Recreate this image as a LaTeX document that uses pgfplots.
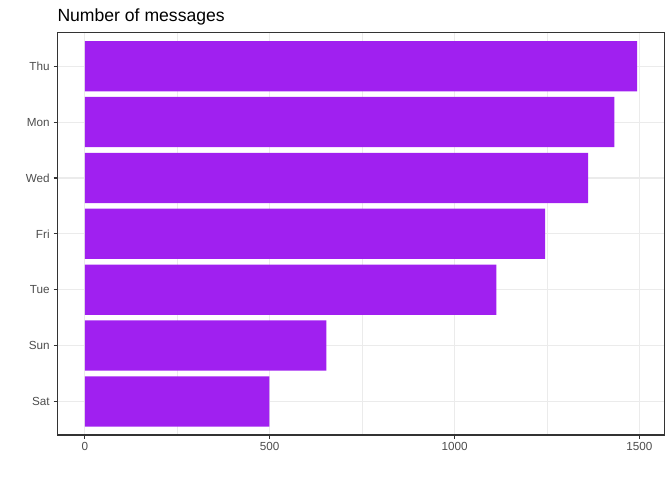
\documentclass[border=0pt]{standalone}
\usepackage{pgfplots}
\pgfplotsset{compat=1.18}
\usepackage{fontspec}
\setmainfont{Liberation Sans}
\definecolor{barpurple}{HTML}{A020F0}
\definecolor{gridgrey}{HTML}{EBEBEB}
\definecolor{bordergrey}{HTML}{333333}
\definecolor{textgrey}{HTML}{4D4D4D}
\begin{document}
\begin{tikzpicture}[x=1pt,y=1pt]
\path (0,0) rectangle (672,480);
\begin{axis}[
  at={(57.3pt,45pt)}, anchor=south west,
  scale only axis, width=607.5pt, height=402.3pt,
  xbar, bar width=0.9,
  xmin=-74.7, xmax=1568.7,
  ymin=0.4, ymax=7.6,
  xtick={0,500,1000,1500},
  minor xtick={250,750,1250},
  ytick={1,2,3,4,5,6,7},
  yticklabels={Sat,Sun,Tue,Fri,Wed,Mon,Thu},
  minor ytick={},
  xmajorgrids, ymajorgrids, xminorgrids,
  major grid style={gridgrey, line width=1.07pt},
  minor grid style={gridgrey, line width=0.53pt},
  axis line style={draw=none},
  tick style={bordergrey, line width=1.07pt},
  tick align=outside,
  major tick length=3.67pt,
  minor tick length=0pt,
  xtick pos=bottom, ytick pos=left,
  tick label style={font=\fontsize{11.7}{14}\selectfont, text=textgrey},
  xticklabel style={yshift=-0.5pt},
  yticklabel style={xshift=-0.5pt},
  /pgf/number format/assume math mode=true,
  /pgf/number format/1000 sep={},
  scaled x ticks=false,
  clip=false,
]
\addplot[fill=barpurple, draw=none] coordinates {
  (499,1) (653,2) (1113,3) (1245,4) (1361,5) (1432,6) (1494,7)
};
\draw[bordergrey, line width=1.07pt] (rel axis cs:0,0) rectangle (rel axis cs:1,1);
\end{axis}
\node[anchor=base west, inner sep=0pt, font=\fontsize{17.6}{20}\selectfont] at (57.3,458) {Number of messages};
\end{tikzpicture}
\end{document}
